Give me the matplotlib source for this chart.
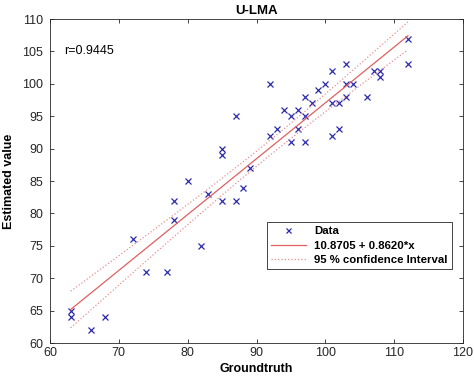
import numpy as np
import matplotlib.pyplot as plt

plt.rcParams['font.family'] = ['Liberation Sans', 'DejaVu Sans']

# Data
groundtruth = [63, 63, 66, 68, 72, 74, 77, 78, 78, 80, 82, 83, 85, 87, 88, 87,
               85, 85, 89, 92, 92, 93, 94, 95, 95, 96, 96, 97, 97, 97, 98, 99,
               100, 101, 101, 101, 102, 102, 103, 103, 103, 104, 106, 107, 108,
               108, 112, 112]
estimated = [65, 64, 62, 64, 76, 71, 71, 79, 82, 85, 75, 83, 82, 82, 84, 95,
             90, 89, 87, 100, 92, 93, 96, 95, 91, 96, 93, 98, 95, 91, 97, 99,
             100, 102, 97, 92, 97, 93, 103, 100, 98, 100, 98, 102, 102,
             101, 107, 103]
intercept = 10.8705
slope = 0.8620
r_value = 0.9445

x = np.array(groundtruth, dtype=float)
y = np.array(estimated, dtype=float)
n = len(x)

# fitted line and 95% confidence band of the mean
xs = np.linspace(x.min(), x.max(), 200)
fit = intercept + slope * xs
resid = y - (intercept + slope * x)
s = np.sqrt(np.sum(resid ** 2) / (n - 2))
sxx = np.sum((x - x.mean()) ** 2)
t_val = 2.013
half = t_val * s * np.sqrt(1.0 / n + (xs - x.mean()) ** 2 / sxx)

fig = plt.figure(figsize=(4.74, 3.82), dpi=100)
ax = fig.add_axes([0.1055, 0.102, 0.8713, 0.848])

ax.plot(x, y, 'x', color='#2b2bb0', markersize=4.5, markeredgewidth=0.9, label='Data')
ax.plot(xs, fit, '-', color='#e06060', linewidth=0.9,
        label='%.4f + %.4f*x' % (intercept, slope))
ax.plot(xs, fit + half, ':', color='#e89090', linewidth=0.9,
        label='95 % confidence Interval')
ax.plot(xs, fit - half, ':', color='#e89090', linewidth=0.9)

ax.set_xlim(60, 120)
ax.set_ylim(60, 110)
ax.set_xticks(np.arange(60, 121, 10))
ax.set_yticks(np.arange(60, 111, 5))
ax.tick_params(direction='in', top=True, right=True, labelsize=9, length=3,
               width=0.6, colors='#262626')
ax.tick_params(axis='x', pad=3)
ax.tick_params(axis='y', pad=5)
for sp in ax.spines.values():
    sp.set_linewidth(0.6)
    sp.set_color('#262626')

ax.set_xlabel('Groundtruth', fontsize=9, fontweight='bold', labelpad=3)
ax.set_ylabel('Estimated value', fontsize=9, fontweight='bold', labelpad=5)
ax.set_title('U-LMA', fontsize=9.5, fontweight='bold', pad=4)
ax.text(62.1, 105, 'r=%.4f' % r_value, fontsize=9, va='center')

leg = ax.legend(loc='upper left', bbox_to_anchor=(0.525, 0.373),
                borderaxespad=0, prop={'weight': 'bold', 'size': 8.2},
                fancybox=False, framealpha=1, edgecolor='#262626',
                borderpad=0.35, labelspacing=0.4, handlelength=3.1,
                handletextpad=0.7, markerscale=0.8)
leg.get_frame().set_linewidth(0.6)

fig.savefig('out.png', dpi=100)
